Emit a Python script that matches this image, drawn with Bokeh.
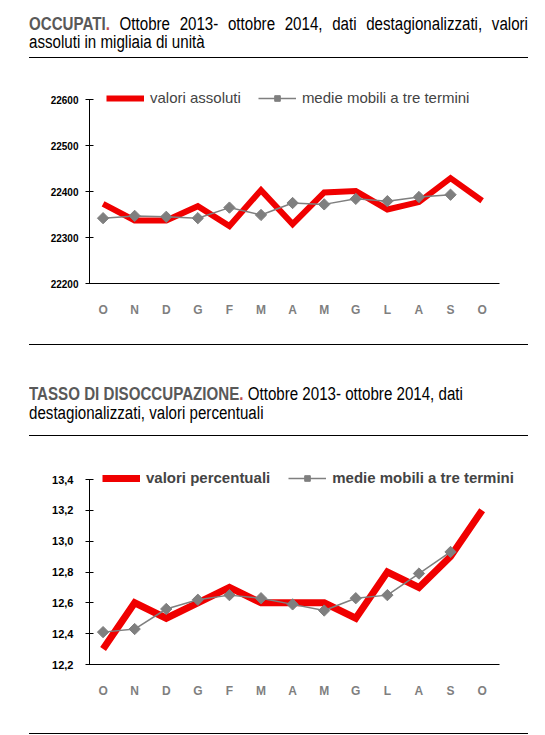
from bokeh.embed import file_html
from bokeh.layouts import column
from bokeh.models import (Div, FixedTicker, Legend, LegendItem, Range1d,
                          CustomJSTickFormatter)
from bokeh.plotting import figure
from bokeh.resources import INLINE

# mesi ottobre 2013 - ottobre 2014
months = ["O", "N", "D", "G", "F", "M", "A", "M", "G", "L", "A", "S", "O"]

# occupati, migliaia
occupati = [22373, 22337, 22337, 22368, 22325, 22403, 22329, 22398, 22401,
            22361, 22377, 22429, 22380]
occupati_mm = [22342, 22347, 22345, 22342, 22365, 22349, 22375, 22372, 22384,
               22379, 22388, 22393]
occupati_ticks = [22200, 22300, 22400, 22500, 22600]

# tasso di disoccupazione, %
disocc = [12.3, 12.6, 12.5, 12.6, 12.7, 12.6, 12.6, 12.6, 12.5, 12.8, 12.7,
          12.9, 13.2]
disocc_mm = [12.41, 12.43, 12.56, 12.62, 12.65, 12.63, 12.59, 12.55, 12.63,
             12.65, 12.79, 12.93]
disocc_ticks = [12.2, 12.4, 12.6, 12.8, 13.0, 13.2, 13.4]

RED = "#f00000"
GREY = "#7f7f7f"
SANS = "Liberation Sans"
PAD = 9  # px of frame above the top tick, room for the legend
EXTRA = 30  # px of frame right of the x axis end, room for the legend
SQUEEZE = 0.84  # Arial Narrow look for the headers
X0, X1 = -0.43, 12.55


def chart(y, y_mm, ticks, label, top, bottom, height, red_width, tick_size,
          standoff, legend_loc, legend_spacing, legend_style, fmt=None):
    x = list(range(len(y)))
    span = ticks[-1] - ticks[0]
    p = figure(frame_width=410 + EXTRA, frame_height=height + PAD,
               min_border_left=89, min_border_right=38 - EXTRA,
               min_border_top=top - PAD, min_border_bottom=bottom,
               toolbar_location=None, output_backend="svg",
               x_range=Range1d(X0, X1 + (X1 - X0) * EXTRA / 410),
               y_range=Range1d(ticks[0], ticks[-1] + span * PAD / height),
               margin=0)
    p.outline_line_color = None
    p.grid.visible = False

    r = p.line(x, y, line_width=red_width, color=RED, line_join="miter")
    g = p.line(x[:len(y_mm)], y_mm, line_width=1.5, color=GREY)
    s = p.scatter(x[:len(y_mm)], y_mm, marker="square", size=8, angle=0.785,
                  color=GREY)

    p.xaxis.ticker = FixedTicker(ticks=x)
    p.xaxis.bounds = (X0, X1)
    p.xaxis.major_label_overrides = {i: m for i, m in enumerate(months)}
    p.xaxis.major_tick_in = 0
    p.xaxis.major_tick_out = 0
    p.xaxis.minor_tick_line_color = None
    p.xaxis.major_label_standoff = 19
    p.xaxis.major_label_text_font = SANS
    p.xaxis.major_label_text_font_style = "bold"
    p.xaxis.major_label_text_font_size = "12px"
    p.xaxis.major_label_text_color = GREY
    p.xaxis.axis_line_color = "black"

    p.yaxis.ticker = FixedTicker(ticks=ticks)
    p.yaxis.bounds = (ticks[0], ticks[-1])
    if fmt:
        p.yaxis.formatter = fmt
    p.yaxis.major_tick_in = 4
    p.yaxis.major_tick_out = 4
    p.yaxis.minor_tick_line_color = None
    p.yaxis.major_label_standoff = standoff
    p.yaxis.major_label_text_font = SANS
    p.yaxis.major_label_text_font_style = "bold"
    p.yaxis.major_label_text_font_size = tick_size
    p.yaxis.major_label_text_color = "black"
    p.yaxis.axis_line_color = "black"

    leg = Legend(items=[LegendItem(label=label, renderers=[r]),
                        LegendItem(label="medie mobili a tre termini",
                                   renderers=[g, s])],
                 location=legend_loc, orientation="horizontal",
                 border_line_color=None, background_fill_alpha=0,
                 padding=0, margin=0, spacing=legend_spacing,
                 glyph_width=38, glyph_height=14, label_height=14,
                 label_standoff=6, label_text_font=SANS,
                 label_text_font_size="15px",
                 label_text_font_style=legend_style)
    p.add_layout(leg)
    return p


def header(bold, line1, line2, justify, pad_top, pad_bottom, line_h, top_rule,
           height):
    align = "text-align:justify;text-align-last:justify;" if justify else ""
    rule_top = "border-top:1px solid #000;" if top_rule else ""
    inner = round(499 / SQUEEZE)
    html = (
        f'<div style="margin-left:29px;width:499px;{rule_top}'
        f'padding-top:{pad_top}px;padding-bottom:{pad_bottom}px;'
        f'border-bottom:1px solid #000;overflow:hidden">'
        f'<div style="width:{inner}px;transform:scaleX({SQUEEZE});'
        f'transform-origin:0 0;'
        f'font-family:\'Liberation Sans\',sans-serif;font-size:18px;'
        f'line-height:{line_h}px;color:#000;white-space:nowrap">'
        f'<div style="{align}"><b style="color:#595959">{bold}</b>'
        f'<b style="color:#c0504d">.</b> {line1}</div>'
        f'<div>{line2}</div></div></div>'
    )
    return Div(text=html, width=537, height=height, margin=0)


comma = CustomJSTickFormatter(code="return tick.toFixed(1).replace('.', ',')")

div1 = header("OCCUPATI", "Ottobre 2013- ottobre 2014, dati destagionalizzati, valori",
              "assoluti in migliaia di unità", True, 15, 6, 18, False, 58)
p1 = chart(occupati, occupati_mm, occupati_ticks, "valori assoluti",
           41, 61, 184, 6, "10px", 7, (17, 177), 17, "normal")
div2 = header("TASSO DI DISOCCUPAZIONE", "Ottobre 2013- ottobre 2014, dati",
              "destagionalizzati, valori percentuali", False, 40, 12, 19, True, 92)
p2 = chart(disocc, disocc_mm, disocc_ticks, "valori percentuali",
           43, 58, 185, 7, "11px", 12, (13, 178), 18, "bold", comma)
div3 = Div(text='<div style="margin-left:29px;width:499px;border-top:1px solid #000"></div>',
           width=537, height=4, margin=0)

p = column(div1, p1, div2, p2, div3, spacing=0)
open("out.html", "w").write(file_html(p, INLINE))
